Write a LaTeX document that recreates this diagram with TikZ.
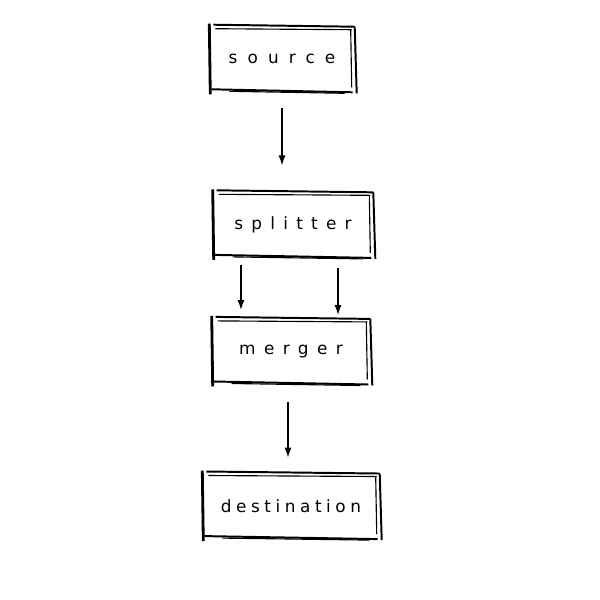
\documentclass[tikz,border=0pt]{standalone}
\usepackage{fontspec}
\setsansfont{DejaVu Sans}
\usetikzlibrary{positioning,arrows.meta}

% rough hand-drawn frame round a node
\newcommand{\sketchbox}[1]{%
  \draw[line width=2pt] ([shift={(0,-4)}]#1.north west) -- ([shift={(1,4)}]#1.south west);
  \draw[line width=1.4pt] ([shift={(4,-3)}]#1.north west) -- ([shift={(0,-1)}]#1.north east);
  \draw[line width=0.8pt] ([shift={(6,1)}]#1.north west) -- ([shift={(-3,2)}]#1.north east);
  \draw[line width=1.4pt] ([shift={(0,-1)}]#1.north east) -- ([shift={(2,3)}]#1.south east);
  \draw[line width=0.8pt] ([shift={(-4,2)}]#1.north east) -- ([shift={(-3,-3)}]#1.south east);
  \draw[line width=1.4pt] ([shift={(2,-1)}]#1.south west) -- ([shift={(-2,2)}]#1.south east);
  \draw[line width=0.8pt] ([shift={(20,1)}]#1.south west) -- ([shift={(-10,3)}]#1.south east);
}

\begin{document}
\begin{tikzpicture}[x=0.025cm,y=-0.025cm,
    every node/.style={font=\sffamily\fontsize{12}{14}\selectfont},
    stage/.style={minimum height=1.55cm,inner sep=0pt},
    spaced/.style={execute at begin node={\addfontfeatures{LetterSpace=#1}}},
    flow/.style={-{Latex[length=7pt,width=5pt]},line width=0.9pt}]
  \useasboundingbox (0,0) rectangle (600,600);
  \node[stage,spaced=60,minimum width=3.62cm] (src) at (282,59) {source};
  \node[stage,spaced=49,minimum width=4cm] (spl) [below=2.575cm of src,xshift=0.275cm] {splitter};
  \node[stage,spaced=50,minimum width=3.95cm] (mrg) [below=1.6cm of spl,xshift=-0.05cm] {merger};
  \node[stage,spaced=27,minimum width=4.42cm] (dst) [below=2.3cm of mrg] {destination};
  \foreach \n in {src,spl,mrg,dst} {\sketchbox{\n}}
  \draw[flow,shorten <=0.45cm,shorten >=0.7cm] (src.south) -- (src.south |- spl.north);
  \draw[flow,shorten <=0.225cm,shorten >=0.25cm] ([xshift=-1.3cm]spl.south) -- ([xshift=-1.3cm]spl.south |- mrg.north);
  \draw[flow,shorten <=0.3cm,shorten >=0.125cm] ([xshift=1.125cm]spl.south) -- ([xshift=1.125cm]spl.south |- mrg.north);
  \draw[flow,shorten <=0.475cm,shorten >=0.425cm] ([xshift=-0.075cm]mrg.south) -- ([xshift=-0.075cm]mrg.south |- dst.north);
\end{tikzpicture}
\end{document}
